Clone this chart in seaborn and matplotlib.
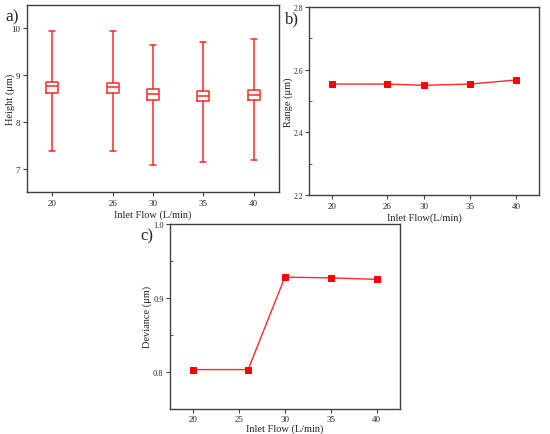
import numpy as np
import pandas as pd
import seaborn as sns
import matplotlib.pyplot as plt

# Inlet flow values (L/min)
flow = [20, 26, 30, 35, 40]

# a) Height box statistics (um)
whisk_low = [7.37, 7.37, 7.09, 7.14, 7.19]
q1 = [8.63, 8.61, 8.48, 8.44, 8.46]
med = [8.76, 8.74, 8.59, 8.55, 8.57]
q3 = [8.86, 8.84, 8.71, 8.66, 8.69]
whisk_high = [9.94, 9.94, 9.65, 9.71, 9.77]

# b) Range (um)
rng = [2.554, 2.554, 2.550, 2.554, 2.567]

# c) Deviance (um)
dev = [0.803, 0.803, 0.928, 0.927, 0.925]

sns.set_theme(style="ticks")
plt.rcParams['font.family'] = ['Liberation Serif', 'DejaVu Serif']

red = '#ff2a2a'
frame = '#404040'

fig = plt.figure(figsize=(5.5, 4.35), dpi=100)
ax1 = fig.add_axes([0.049, 0.556, 0.458, 0.430])
ax2 = fig.add_axes([0.562, 0.549, 0.418, 0.433])
ax3 = fig.add_axes([0.309, 0.058, 0.418, 0.425])


def style(ax):
    for s in ax.spines.values():
        s.set_color(frame)
        s.set_linewidth(1.0)
    ax.tick_params(which='major', direction='out', length=3, width=0.8,
                   color=frame, labelsize=6.5, pad=2)
    ax.tick_params(which='minor', direction='in', length=2, width=0.6, color=frame)


# a) box plot
stats = []
for i in range(len(flow)):
    stats.append(dict(whislo=whisk_low[i], q1=q1[i], med=med[i],
                      q3=q3[i], whishi=whisk_high[i], fliers=[]))
lw = 1.1
ax1.bxp(stats, positions=flow, widths=1.2, capwidths=0.6, showfliers=False,
        boxprops=dict(color=red, linewidth=lw),
        medianprops=dict(color=red, linewidth=lw),
        whiskerprops=dict(color=red, linewidth=lw),
        capprops=dict(color=red, linewidth=lw), manage_ticks=False)
ax1.set_xlim(17.5, 42.5)
ax1.set_ylim(6.5, 10.5)
ax1.set_xticks(flow)
ax1.set_yticks([7, 8, 9, 10])
ax1.set_xlabel('Inlet Flow (L/min)', fontsize=7.5, labelpad=1.5)
ax1.set_ylabel('Height (μm)', fontsize=7.5)
ax1.yaxis.set_label_coords(-0.048, 0.5)
style(ax1)
fig.text(0.009, 0.979, 'a)', fontsize=12.5, va='top', ha='left')

# b) range line
df_b = pd.DataFrame({'flow': flow, 'range': rng})
sns.lineplot(data=df_b, x='flow', y='range', ax=ax2, color=red, linewidth=1.0,
             marker='s', markersize=4.5, markerfacecolor='#ff0000',
             markeredgecolor='#ff0000')
ax2.set_xlim(17.5, 42.5)
ax2.set_ylim(2.2, 2.8)
ax2.set_xticks(flow)
ax2.set_yticks([2.2, 2.4, 2.6, 2.8])
ax2.set_yticks([2.3, 2.5, 2.7], minor=True)
ax2.set_xlabel('Inlet Flow(L/min)', fontsize=7.5, labelpad=1.5)
ax2.set_ylabel('Range (μm)', fontsize=7.5)
ax2.yaxis.set_label_coords(-0.072, 0.5)
style(ax2)
ax2.tick_params(axis='y', labelsize=5.5, pad=1.5)
fig.text(0.518, 0.974, 'b)', fontsize=12, va='top', ha='left')

# c) deviance line
df_c = pd.DataFrame({'flow': flow, 'dev': dev})
sns.lineplot(data=df_c, x='flow', y='dev', ax=ax3, color=red, linewidth=1.0,
             marker='s', markersize=4.5, markerfacecolor='#ff0000',
             markeredgecolor='#ff0000')
ax3.set_xlim(17.5, 42.5)
ax3.set_ylim(0.75, 1.0)
ax3.set_xticks([20, 25, 30, 35, 40])
ax3.set_yticks([0.8, 0.9, 1.0])
ax3.set_yticks([0.85, 0.95], minor=True)
ax3.set_xlabel('Inlet Flow (L/min)', fontsize=7.5, labelpad=0.5)
ax3.set_ylabel('Deviance (μm)', fontsize=7.5)
ax3.yaxis.set_label_coords(-0.078, 0.5)
style(ax3)
ax3.tick_params(axis='y', labelsize=6, pad=1.5)
ax3.tick_params(axis='x', pad=1.5)
fig.text(0.255, 0.474, 'c)', fontsize=12, va='top', ha='left')

fig.savefig('out.png', dpi=100)
